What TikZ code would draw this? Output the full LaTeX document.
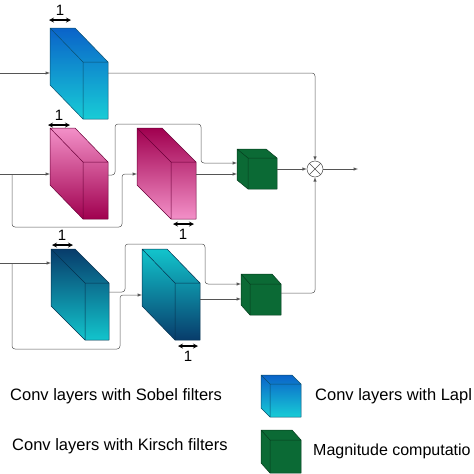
\documentclass[tikz,border=0pt]{standalone}
\usepackage{fontspec}
\setmainfont{Liberation Sans}
\usepackage{tikz}
\usetikzlibrary{arrows}
\definecolor{lapTop}{HTML}{0A63C9}
\definecolor{lapBot}{HTML}{18CCD6}
\definecolor{lapLine}{HTML}{0B4F6E}
\definecolor{sobLight}{HTML}{F390C8}
\definecolor{sobDark}{HTML}{A0004F}
\definecolor{sobLine}{HTML}{6A0038}
\definecolor{kirDark}{HTML}{083C6B}
\definecolor{kirLight}{HTML}{12C4CC}
\definecolor{kirLine}{HTML}{06324F}
\definecolor{magFill}{HTML}{0B6A35}
\definecolor{magLine}{HTML}{063D1E}
\definecolor{wire}{HTML}{555555}
% slab: shading style, edge colour, front x, front y, width, height, depth x, depth y
\newcommand{\slab}[8]{%
  \path[#1] (#3-#7,#4-#8) -- (#3-#7+#5,#4-#8) -- (#3+#5,#4) -- (#3+#5,#4+#6)
     -- (#3,#4+#6) -- (#3-#7,#4+#6-#8) -- cycle;
  \draw[#2, line width=0.5pt, line join=round] (#3-#7,#4-#8) -- (#3-#7+#5,#4-#8) -- (#3+#5,#4)
     -- (#3+#5,#4+#6) -- (#3,#4+#6) -- (#3-#7,#4+#6-#8) -- cycle
     (#3-#7,#4-#8) -- (#3,#4) -- (#3+#5,#4) (#3,#4) -- (#3,#4+#6);}
\tikzset{
  lapbox/.style={top color=lapTop, bottom color=lapBot},
  sobbox/.style={top color=sobLight, bottom color=sobDark},
  sobboxr/.style={top color=sobDark, bottom color=sobLight},
  kirbox/.style={top color=kirDark, bottom color=kirLight},
  kirboxr/.style={top color=kirLight, bottom color=kirDark},
  magbox/.style={fill=magFill},
  link/.style={draw=wire, line width=0.5pt, rounded corners=3pt, -latex},
  width/.style={black, line width=1.2pt, <->, >=stealth},
  widthlabel/.style={font=\fontsize{15}{17}\selectfont, inner sep=0pt},
  legend/.style={font=\fontsize{16.5}{19}\selectfont, anchor=west, inner sep=0pt}
}

\begin{document}
\begin{tikzpicture}[x=1pt,y=-1pt]
  \useasboundingbox (0,0) rectangle (474,474);
  \clip (0,0) rectangle (474,474);

  % conv blocks
  \slab{lapbox}{lapLine}{83}{62}{25}{57}{33}{34}
  \slab{sobbox}{sobLine}{83}{162}{25}{57}{33}{34}
  \slab{sobboxr}{sobLine}{171}{162}{25}{57}{34}{34}
  \slab{kirbox}{kirLine}{85}{283}{24}{57}{34}{34}
  \slab{kirboxr}{kirLine}{175}{283}{25}{57}{33}{34}
  \slab{magbox}{magLine}{248}{158}{29}{31}{11}{9}
  \slab{magbox}{magLine}{250}{284}{31}{31}{9}{10}

  % multiplication
  \node[circle, draw=black!70, fill=white, line width=0.5pt, minimum size=16pt, inner sep=0pt] (mul) at (315,169) {};
  \draw[black!70, line width=0.5pt] (mul.north west) -- (mul.south east) (mul.north east) -- (mul.south west);

  % ports
  \coordinate (lapIn) at (0,73);
  \coordinate (lapL) at (50,73);
  \coordinate (lapR) at (108,73);
  \coordinate (sobIn) at (0,174);
  \coordinate (sobA) at (50,174);
  \coordinate (sobAR) at (108,175);
  \coordinate (sobB) at (137,174);
  \coordinate (sobBR) at (196,174);
  \coordinate (magA1) at (237,163);
  \coordinate (magA2) at (237,174);
  \coordinate (magAR) at (277,169);
  \coordinate (kirIn) at (0,263);
  \coordinate (kirA) at (51,263);
  \coordinate (kirAR) at (109,292);
  \coordinate (kirB) at (142,295);
  \coordinate (kirBR) at (200,299);
  \coordinate (magB1) at (241,284);
  \coordinate (magB2) at (241,299);
  \coordinate (magBR) at (281,293);
  \coordinate (out) at (358,169);

  % connectors
  \draw[link] (lapIn) -- (lapL);
  \draw[link] (lapR) -| (mul.north);
  \draw[link] (sobIn) -- (sobA);
  \draw[link] (12,174) -- (12,227) -- (122,227) -- (122,174) -- (sobB);
  \draw[link] (sobAR) -- (115,175) -- (115,124) -- (201,124) -- (201,163) -- (magA1);
  \draw[link] (sobBR) -- (magA2);
  \draw[link] (magAR) -- (mul.west);
  \draw[link] (mul.east) -- (out);
  \draw[link] (kirIn) -- (kirA);
  \draw[link] (12,263) -- (12,349) -- (120,349) -- (120,295) -- (kirB);
  \draw[link] (kirAR) -- (125,292) -- (125,244) -- (205,244) -- (205,284) -- (magB1);
  \draw[link] (kirBR) -- (magB2);
  \draw[link] (magBR) -| (mul.south);

  % kernel widths
  \draw[width] (49,20) -- (71,20);
  \node[widthlabel] (wLap) at (60,10) {1};
  \draw[width] (48,125) -- (70,125);
  \node[widthlabel] (wSobA) at (59,115) {1};
  \draw[width] (173,224) -- (194,224);
  \node[widthlabel] (wSobB) at (183,234) {1};
  \draw[width] (52,245) -- (73,245);
  \node[widthlabel] (wKirA) at (62,235) {1};
  \draw[width] (178,346) -- (198,346);
  \node[widthlabel] (wKirB) at (188,356) {1};

  % legend
  \node[legend] (legSob) at (10,396) {Conv layers with Sobel filters};
  \node[legend] (legKir) at (12,446) {Conv layers with Kirsch filters};
  \slab{lapbox}{lapLine}{270}{384}{31}{33}{9}{9}
  \slab{magbox}{magLine}{270}{440}{31}{33}{9}{10}
  \node[legend] (legLap) at (315,396) {Conv layers with Lapl};
  \node[legend, font=\fontsize{16}{19}\selectfont] (legMag) at (313,451) {Magnitude computatio};
\end{tikzpicture}
\end{document}
